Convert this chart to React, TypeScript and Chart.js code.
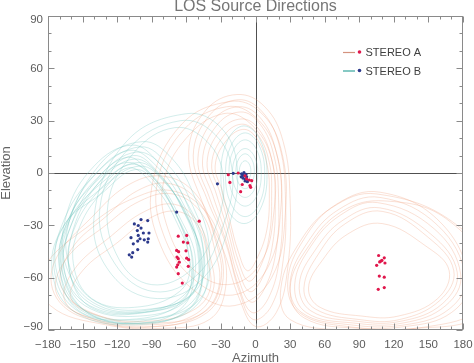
import React, { useEffect, useRef } from 'react';
import { Chart, registerables } from 'chart.js';

Chart.register(...registerables);

type P = [number, number];

const titleText = 'LOS Source Directions';
const xTitle = 'Azimuth';
const yTitle = 'Elevation';
const seriesNames = ['STEREO A', 'STEREO B'];

const xTicks = [-180, -150, -120, -90, -60, -30, 0, 30, 60, 90, 120, 150, 180];
const yTicks = [-90, -60, -30, 0, 30, 60, 90];
const minorStep = 10;

// STEREO A source directions (azimuth, elevation)
const stereoA: P[] = [
  [-48.8, -27.6], [-67, -36.2], [-59.7, -35.8], [-62.6, -39.6], [-58.8, -40], [-68.4, -44.4],
  [-66.7, -45.1], [-60.3, -44.6], [-68.1, -48.2], [-67, -49.1], [-59.7, -48.8], [-58, -49.7],
  [-66.1, -51.1], [-67.5, -52.6], [-68.4, -53.9], [-58.3, -53.5], [-67, -57.7], [-63.5, -63.1],
  [-23.6, -1], [-22.2, -5.4], [-11.5, -6.6], [-12.9, -10.7], [-4.8, -7.2], [-4.2, -8.2],
  [-5.4, -4], [-7.7, -3.4], [-3.3, -4.4], [-9.1, -1.6], [-15, 0],
  [106.8, -47.3], [111.7, -48.6], [108.8, -50.5], [107.7, -51], [112.3, -51.6], [105.1, -52.9],
  [109.7, -50.1], [107.4, -59.1], [111.7, -59.7], [106.5, -66.7], [111.7, -65.7],
];

// STEREO B source directions (azimuth, elevation)
const stereoB: P[] = [
  [-68.4, -22.4], [-105.1, -29.2], [-99.3, -26.7], [-93.5, -27.3], [-101.7, -30.1], [-99.3, -31.6],
  [-102.5, -33], [-97.3, -34.4], [-92.4, -34.4], [-108, -37.1], [-101.7, -35.8], [-100.2, -37.7],
  [-96.5, -38.3], [-93.5, -39.6], [-102.2, -39], [-106, -40.6], [-102.2, -43.9], [-106.5, -45.7],
  [-109.5, -46.9], [-107.4, -48.2], [-93, -37.7],
  [-33, -6.2], [-19.3, -0.2], [-12, -0.5], [-10, 0.2], [-8.3, -0.8], [-7.7, -2.2], [-8.6, -3.6],
  [-10.6, -3], [-12.4, -2.2], [-11, -1.4], [-9, -4.6], [-7, -5],
];

// STEREO B loops, left lobe
const tealLeftLoops: P[][] = [
  [[-105, 8], [-82, -2], [-62, -22], [-48, -48], [-58, -72], [-100, -82], [-148, -76], [-166, -55], [-160, -30], [-135, -5]],
  [[-103, 12], [-78, 2], [-58, -20], [-45, -48], [-55, -74], [-98, -84], [-150, -78], [-170, -55], [-163, -28], [-136, -2]],
  [[-108, 5], [-86, -4], [-66, -25], [-52, -50], [-62, -70], [-102, -80], [-145, -74], [-162, -54], [-156, -30], [-133, -8]],
  [[-100, 15], [-75, 4], [-55, -18], [-42, -46], [-50, -75], [-95, -86], [-148, -80], [-172, -58], [-168, -30], [-138, 0]],
  [[-110, 3], [-90, -6], [-70, -26], [-57, -52], [-66, -68], [-105, -77], [-142, -72], [-158, -52], [-152, -30], [-132, -10]],
  [[-106, 10], [-84, 0], [-64, -20], [-50, -46], [-56, -70], [-96, -80], [-140, -78], [-160, -60], [-158, -32], [-134, -4]],
  [[-112, 6], [-90, -2], [-70, -22], [-55, -50], [-64, -74], [-110, -84], [-155, -78], [-170, -52], [-162, -26], [-140, -6]],
  [[-98, 18], [-72, 8], [-52, -15], [-40, -44], [-48, -72], [-90, -84], [-140, -82], [-165, -62], [-165, -35], [-135, 5]],
  [[-104, 2], [-84, -8], [-66, -28], [-54, -52], [-62, -76], [-100, -86], [-152, -80], [-174, -58], [-166, -30], [-134, -12]],
  [[-109, 13], [-86, 4], [-64, -16], [-50, -42], [-54, -68], [-92, -78], [-138, -74], [-162, -52], [-160, -24], [-138, 0]],
  [[-102, 6], [-80, -4], [-60, -24], [-47, -50], [-54, -76], [-95, -86], [-146, -80], [-168, -56], [-162, -28], [-134, -6]],
  [[-107, 16], [-84, 6], [-62, -14], [-46, -40], [-50, -66], [-88, -78], [-136, -76], [-164, -54], [-164, -24], [-140, 4]],
  [[-111, 9], [-92, 0], [-72, -20], [-58, -46], [-60, -70], [-98, -80], [-144, -76], [-166, -56], [-160, -30], [-138, -4]],
  [[-100, 4], [-78, -6], [-58, -26], [-46, -54], [-58, -78], [-104, -87], [-156, -80], [-176, -58], [-168, -32], [-132, -8]],
];

// STEREO B loops, near the origin
const tealCenterLoops: P[][] = [
  [[-4, 1], [-5.5, 5.2], [-9, 7], [-12.5, 5.2], [-14, 1], [-12.5, -3.2], [-9, -5], [-5.5, -3.2]],
  [[-1, 1], [-3.4, 8], [-9, 11], [-14.6, 8], [-17, 1], [-14.6, -6], [-9, -9], [-3.4, -6]],
  [[2, 0], [-1.3, 9.9], [-9, 14], [-16.7, 9.9], [-20, 0], [-16.7, -9.9], [-9, -14], [-1.3, -9.9]],
  [[5, 0], [0.9, 13.4], [-9, 19], [-18.9, 13.4], [-23, 0], [-18.9, -13.4], [-9, -19], [0.9, -13.4]],
  [[8, -1], [3, 16], [-9, 23], [-21, 16], [-26, -1], [-21, -18], [-9, -25], [3, -18]],
  [[10, -1], [4, 19], [-10, 27], [-24, 19], [-30, -1], [-24, -21], [-10, -29], [4, -21]],
];

// STEREO B loops, wide ones
const tealWideLoops: P[][] = [
  [[-65, 30], [-35, 22], [-20, 0], [-28, -30], [-50, -58], [-88, -68], [-122, -52], [-135, -20], [-110, 14]],
  [[-70, 26], [-42, 18], [-28, -2], [-34, -30], [-55, -55], [-90, -64], [-118, -50], [-128, -18], [-105, 12]],
  [[-60, 34], [-30, 26], [-16, 4], [-22, -28], [-45, -60], [-85, -72], [-125, -58], [-140, -25], [-112, 18]],
];

// STEREO A loops, around the origin
const salmonCenterLoops: P[][] = [
  [[-15, 42], [6, 35], [21, 15], [26, -15], [24, -50], [14, -76], [-2, -84], [-14, -68], [-26, -40], [-42, -15], [-54, 10], [-40, 33]],
  [[-14, 38], [5, 31], [18, 12], [23, -15], [21, -48], [11, -72], [-3, -80], [-15, -64], [-26, -38], [-40, -14], [-50, 8], [-37, 30]],
  [[-13, 35], [4, 28], [16, 10], [20, -14], [18, -44], [8, -66], [-4, -74], [-15, -60], [-25, -36], [-37, -13], [-46, 7], [-34, 27]],
  [[-12, 31], [3, 25], [14, 8], [17, -14], [15, -40], [6, -60], [-5, -68], [-15, -55], [-24, -33], [-34, -12], [-42, 6], [-31, 24]],
  [[-12, 28], [2, 22], [12, 6], [14, -13], [12, -36], [4, -54], [-6, -62], [-15, -50], [-23, -30], [-31, -11], [-38, 5], [-28, 21]],
  [[-16, 45], [8, 38], [24, 18], [30, -15], [28, -54], [18, -80], [0, -88], [-14, -72], [-28, -44], [-46, -17], [-58, 12], [-43, 36]],
  [[-11, 25], [1, 20], [10, 5], [12, -12], [10, -32], [2, -48], [-7, -56], [-15, -45], [-22, -28], [-29, -10], [-35, 4], [-26, 18]],
  [[-25, 38], [0, 32], [18, 12], [22, -20], [10, -55], [-20, -70], [-55, -60], [-80, -35], [-85, -5], [-62, 25]],
  [[-28, 34], [-4, 28], [14, 8], [16, -22], [4, -52], [-24, -64], [-56, -54], [-76, -32], [-80, -6], [-60, 20]],
  [[-22, 41], [4, 35], [22, 14], [26, -22], [14, -60], [-18, -76], [-52, -68], [-82, -42], [-90, -8], [-64, 28]],
];

// STEREO A loops, left lobe
const salmonLeftLoops: P[][] = [
  [[-72, -12], [-48, -22], [-36, -42], [-32, -66], [-50, -82], [-90, -88], [-140, -84], [-172, -70], [-165, -50], [-130, -30], [-100, -16]],
  [[-75, -6], [-50, -16], [-35, -38], [-30, -62], [-45, -80], [-88, -86], [-135, -82], [-168, -66], [-160, -44], [-128, -24], [-102, -10]],
  [[-70, -18], [-50, -28], [-40, -46], [-37, -68], [-55, -82], [-92, -87], [-138, -84], [-165, -74], [-158, -56], [-125, -36], [-96, -22]],
  [[-78, -2], [-52, -12], [-36, -34], [-28, -60], [-42, -80], [-85, -88], [-132, -86], [-170, -74], [-175, -52], [-140, -24], [-108, -6]],
  [[-68, -22], [-50, -30], [-42, -48], [-40, -68], [-58, -80], [-95, -85], [-135, -82], [-160, -72], [-150, -56], [-120, -40], [-92, -26]],
  [[-74, -10], [-46, -20], [-30, -40], [-26, -66], [-40, -84], [-80, -89], [-130, -87], [-178, -76], [-185, -56], [-140, -28], [-104, -14]],
];

// STEREO A loops, right lobe
const salmonRightLoops: P[][] = [
  [[108, -11], [70, -18], [42, -38], [28, -62], [38, -80], [80, -88], [130, -88], [170, -80], [185, -62], [160, -28]],
  [[108, -14], [72, -21], [45, -40], [30, -63], [40, -80], [82, -87], [130, -87], [168, -78], [182, -60], [158, -30]],
  [[106, -17], [74, -24], [48, -42], [34, -64], [44, -80], [85, -86], [128, -86], [165, -76], [178, -58], [155, -32]],
  [[108, -20], [76, -27], [52, -44], [38, -64], [48, -79], [88, -85], [126, -85], [162, -75], [175, -57], [152, -35]],
  [[110, -22], [78, -29], [55, -46], [42, -66], [52, -78], [90, -84], [125, -84], [160, -73], [172, -56], [150, -37]],
  [[110, -29], [80, -35], [58, -50], [46, -66], [56, -77], [92, -82], [124, -82], [158, -72], [168, -56], [148, -42]],
  [[105, -12], [66, -20], [38, -40], [22, -66], [30, -84], [80, -90], [140, -89], [190, -84], [215, -68], [175, -30]],
  [[112, -16], [75, -22], [46, -42], [30, -66], [42, -83], [90, -89], [150, -88], [195, -78], [205, -60], [165, -26]],
];

const TEAL_LINE = 'rgba(110,195,190,0.3)';
const SALMON_LINE = 'rgba(240,155,118,0.3)';
const RED = '#e0174c';
const NAVY = '#2d3a8c';
const LEGEND_A = '#d4937f';
const LEGEND_B = '#34a59c';
const FONT = '"Liberation Sans", Arial, sans-serif';

const toXY = (pts: P[]) => pts.map(([x, y]) => ({ x, y }));
const fmt = (v: number) => (v < 0 ? '\u2212' + Math.abs(v) : String(v));

const loopSet = (loops: P[][], color: string) =>
  loops.map((l) => ({
    type: 'line' as const,
    data: toXY(l),
    borderColor: color,
    borderWidth: 1,
    pointRadius: 0,
    tension: 0.4,
    spanGaps: true,
    fill: false,
    closedLoop: true,
    order: 2,
  }));

const decorPlugin = {
  id: 'decor',
  afterDatasetUpdate(chart: any, args: any) {
    const ds = chart.data.datasets[args.index];
    if (ds && ds.closedLoop && args.meta && args.meta.dataset) {
      args.meta.dataset._loop = true;
    }
  },
  beforeDatasetsDraw(chart: any) {
    const ctx = chart.ctx;
    const xs = chart.scales.x;
    const ys = chart.scales.y;
    const { left, right, top, bottom } = chart.chartArea;
    ctx.save();
    ctx.strokeStyle = '#505050';
    ctx.lineWidth = 1;
    const x0 = Math.round(xs.getPixelForValue(0)) + 0.5;
    const y0 = Math.round(ys.getPixelForValue(0)) + 0.5;
    ctx.beginPath();
    ctx.moveTo(x0, top);
    ctx.lineTo(x0, bottom);
    ctx.moveTo(left, y0);
    ctx.lineTo(right, y0);
    ctx.stroke();
    ctx.restore();
  },
  afterDatasetsDraw(chart: any) {
    const ctx = chart.ctx;
    const xs = chart.scales.x;
    const ys = chart.scales.y;
    const { left, right, top, bottom } = chart.chartArea;
    ctx.save();
    // frame
    ctx.strokeStyle = '#8a8a8a';
    ctx.lineWidth = 1;
    const L = Math.round(left) + 0.5;
    const R = Math.round(right) - 0.5;
    const T = Math.round(top) + 0.5;
    const B = Math.round(bottom) - 0.5;
    ctx.strokeRect(L, T, R - L, B - T);
    // ticks
    ctx.beginPath();
    for (let v = -180; v <= 180; v += minorStep) {
      const len = v % 30 === 0 ? 6 : 3;
      const x = Math.round(xs.getPixelForValue(v)) + 0.5;
      ctx.moveTo(x, B);
      ctx.lineTo(x, B - len);
      ctx.moveTo(x, T);
      ctx.lineTo(x, T + len);
    }
    for (let v = -90; v <= 90; v += minorStep) {
      const len = v % 30 === 0 ? 6 : 3;
      const y = Math.round(ys.getPixelForValue(v)) + 0.5;
      ctx.moveTo(L, y);
      ctx.lineTo(L + len, y);
      ctx.moveTo(R, y);
      ctx.lineTo(R - len, y);
    }
    ctx.stroke();
    // tick labels
    ctx.fillStyle = '#5c5c5c';
    ctx.font = `11.5px ${FONT}`;
    ctx.textBaseline = 'middle';
    ctx.textAlign = 'center';
    xTicks.forEach((v) => {
      ctx.fillText(fmt(v), xs.getPixelForValue(v), 344.5);
    });
    ctx.textAlign = 'right';
    yTicks.forEach((v) => {
      let y = ys.getPixelForValue(v);
      y = Math.min(Math.max(y, top + 4), bottom - 3);
      ctx.fillText(fmt(v), left - 5, y);
    });
    // title
    ctx.fillStyle = '#767676';
    ctx.textAlign = 'center';
    ctx.textBaseline = 'alphabetic';
    ctx.font = `16px ${FONT}`;
    ctx.fillText(titleText, (left + right) / 2, 11);
    // axis titles
    ctx.fillStyle = '#646464';
    ctx.font = `13px ${FONT}`;
    ctx.fillText(xTitle, (left + right) / 2, 362);
    ctx.save();
    ctx.translate(10, (top + bottom) / 2);
    ctx.rotate(-Math.PI / 2);
    ctx.fillText(yTitle, 0, 0);
    ctx.restore();
    // legend
    const items = [
      { name: seriesNames[0], line: LEGEND_A, dot: RED, y: 52.5 },
      { name: seriesNames[1], line: LEGEND_B, dot: NAVY, y: 71 },
    ];
    items.forEach((it) => {
      ctx.strokeStyle = it.line;
      ctx.lineWidth = 1.2;
      ctx.beginPath();
      ctx.moveTo(343, it.y);
      ctx.lineTo(355, it.y);
      ctx.stroke();
      ctx.fillStyle = it.dot;
      ctx.beginPath();
      ctx.arc(359.5, it.y - 0.5, 1.8, 0, Math.PI * 2);
      ctx.fill();
      ctx.fillStyle = '#404040';
      ctx.font = `11px ${FONT}`;
      ctx.textAlign = 'left';
      ctx.textBaseline = 'middle';
      ctx.fillText(it.name, 365.5, it.y + 0.5);
    });
    ctx.restore();
  },
};

export default function App() {
  const canvasRef = useRef<HTMLCanvasElement | null>(null);

  useEffect(() => {
    if (!canvasRef.current) return;
    const datasets: any[] = [
      {
        type: 'scatter',
        data: toXY(stereoA),
        pointRadius: 1.6,
        pointBackgroundColor: RED,
        pointBorderWidth: 0,
        showLine: false,
        order: 0,
      },
      {
        type: 'scatter',
        data: toXY(stereoB),
        pointRadius: 1.6,
        pointBackgroundColor: NAVY,
        pointBorderWidth: 0,
        showLine: false,
        order: 0,
      },
      ...loopSet(tealLeftLoops, TEAL_LINE),
      ...loopSet(tealCenterLoops, TEAL_LINE),
      ...loopSet(tealWideLoops, TEAL_LINE),
      ...loopSet(salmonCenterLoops, SALMON_LINE),
      ...loopSet(salmonLeftLoops, SALMON_LINE),
      ...loopSet(salmonRightLoops, SALMON_LINE),
    ];
    const chart = new Chart(canvasRef.current, {
      type: 'line',
      data: { datasets },
      options: {
        animation: false,
        responsive: false,
        devicePixelRatio: 1,
        events: [],
        layout: { padding: { left: 48, right: 11, top: 16, bottom: 33 } },
        plugins: {
          legend: { display: false },
          title: { display: false },
          tooltip: { enabled: false },
        },
        elements: { line: { capBezierPoints: false } as any },
        scales: {
          x: { type: 'linear', min: -180, max: 180, display: false },
          y: { type: 'linear', min: -90, max: 90, display: false },
        },
      },
      plugins: [decorPlugin as any],
    } as any);
    return () => chart.destroy();
  }, []);

  return (
    <div style={{ position: 'fixed', left: 0, top: 0, width: 474, height: 363, background: '#fff' }}>
      <canvas ref={canvasRef} width={474} height={363} style={{ display: 'block' }} />
    </div>
  );
}
